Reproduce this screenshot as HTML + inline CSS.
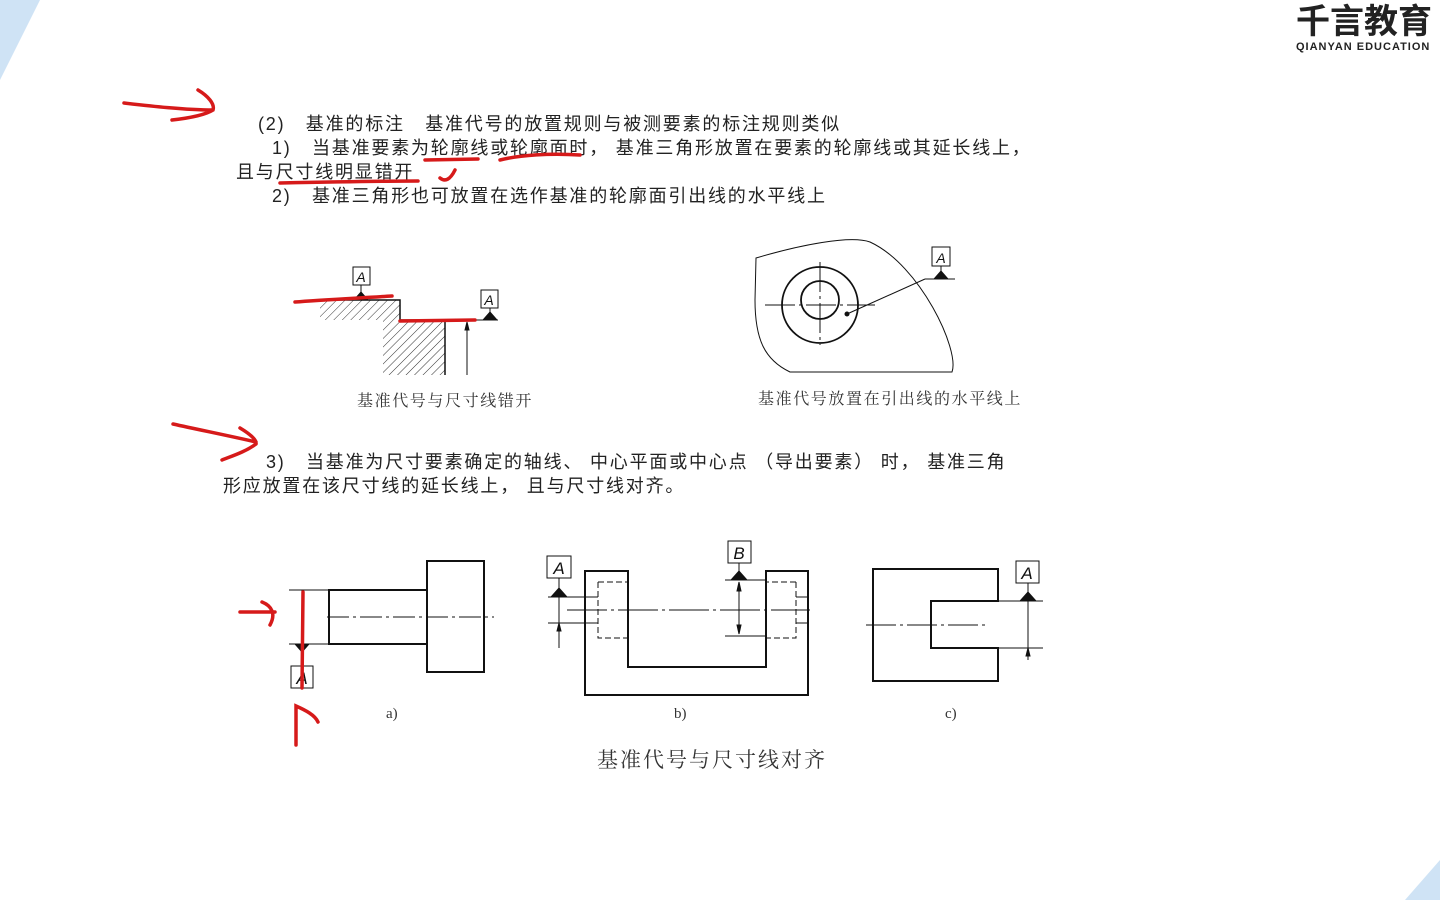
<!DOCTYPE html>
<html><head><meta charset="utf-8"><style>
body{margin:0;width:1440px;height:900px;background:#fff;overflow:hidden;position:relative;font-family:"Liberation Sans","Noto Sans CJK SC",sans-serif;}
.t{position:absolute;font-size:18px;color:#222;white-space:nowrap;line-height:24px;letter-spacing:1.8px}
.s{font-family:"Liberation Serif","Noto Serif CJK SC",serif;color:#333;position:absolute;white-space:nowrap}
</style></head><body>
<div class="t" style="left:258px;top:112px">(2)&nbsp;&nbsp; 基准的标注&nbsp;&nbsp;&nbsp;基准代号的放置规则与被测要素的标注规则类似</div>
<div class="t" style="left:272px;top:136px">1)&nbsp;&nbsp; 当基准要素为轮廓线或轮廓面时，&nbsp;基准三角形放置在要素的轮廓线或其延长线上，</div>
<div class="t" style="left:236px;top:160px">且与尺寸线明显错开</div>
<div class="t" style="left:272px;top:184px">2)&nbsp;&nbsp; 基准三角形也可放置在选作基准的轮廓面引出线的水平线上</div>
<div class="t" style="left:266px;top:450px">3)&nbsp;&nbsp; 当基准为尺寸要素确定的轴线、&nbsp;中心平面或中心点&nbsp;（导出要素）&nbsp;时，&nbsp;基准三角</div>
<div class="t" style="left:223px;top:474px">形应放置在该尺寸线的延长线上，&nbsp;且与尺寸线对齐。</div>
<div class="s" style="left:357px;top:388px;font-size:16px;letter-spacing:1.6px">基准代号与尺寸线错开</div>
<div class="s" style="left:758px;top:386px;font-size:16px;letter-spacing:1.6px">基准代号放置在引出线的水平线上</div>
<div class="s" style="left:386px;top:706px;font-size:15px">a)</div>
<div class="s" style="left:674px;top:706px;font-size:15px">b)</div>
<div class="s" style="left:945px;top:706px;font-size:15px">c)</div>
<div class="s" style="left:597px;top:744px;font-size:21px;letter-spacing:2px">基准代号与尺寸线对齐</div>
<div style="position:absolute;left:1296px;top:2px;font-size:34px;font-weight:bold;color:#222;letter-spacing:0px;line-height:40px">千言教育</div>
<div style="position:absolute;left:1296px;top:41px;font-size:11px;font-weight:bold;color:#222;line-height:12px;letter-spacing:1px">QIANYAN EDUCATION</div>
<svg width="1440" height="900" style="position:absolute;left:0;top:0">
<polygon points="0,0 40,0 0,80" fill="#cfe3f5"/>
<polygon points="1440,860 1440,900 1405,900" fill="#cfe3f5"/>
<g font-family="Liberation Sans, sans-serif" font-style="italic" fill="#111" text-anchor="middle">
<text x="361" y="282" font-size="14">A</text>
<text x="489" y="305" font-size="14">A</text>
<text x="941" y="263" font-size="14">A</text>
<text x="302" y="684" font-size="17">A</text>
<text x="559" y="574" font-size="17">A</text>
<text x="739" y="559" font-size="17">B</text>
<text x="1027" y="579" font-size="17">A</text>
</g>
<g stroke="#111" fill="none" stroke-width="1">
<defs><pattern id="h" width="6" height="6" patternUnits="userSpaceOnUse" patternTransform="rotate(45)"><line x1="0" y1="0" x2="0" y2="6" stroke="#333" stroke-width="1"/></pattern></defs>
<path d="M320,300 L400,300 L400,320 L445,320 L445,375 L383,375 L383,320 L320,320 Z" fill="url(#h)" stroke="none"/>
<path d="M320,300 L400,300 L400,320 L445,320 L445,375" stroke-width="1.5"/>
<line x1="445" y1="320" x2="498" y2="320"/>
<line x1="467" y1="375" x2="467" y2="324"/>
<polygon points="467,322 465,330 469,330" fill="#111"/>
<rect x="353" y="267" width="17" height="18"/><line x1="361" y1="285" x2="361" y2="293"/>
<polygon points="354,300 368,300 361,292" fill="#111"/>
<rect x="481" y="290" width="17" height="18"/><line x1="490" y1="308" x2="490" y2="313"/>
<polygon points="483,320 497,320 490,312" fill="#111"/>
<path d="M756,258 C800,245 850,235 870,242 C920,265 960,350 952,372 L790,372 C765,360 755,340 755,300 Z"/>
<circle cx="820" cy="305" r="38" stroke-width="1.8"/>
<circle cx="820" cy="300" r="19" stroke-width="1.8"/>
<line x1="765" y1="305" x2="875" y2="305" stroke-dasharray="30,4,3,4"/>
<line x1="820" y1="262" x2="820" y2="345" stroke-dasharray="30,4,3,4"/>
<circle cx="847" cy="314" r="2" fill="#111"/>
<line x1="847" y1="314" x2="925" y2="279"/><line x1="925" y1="279" x2="955" y2="279"/>
<rect x="932" y="247" width="18" height="19"/><line x1="941" y1="266" x2="941" y2="272"/>
<polygon points="934,279 948,279 941,271" fill="#111"/>
<rect x="329" y="590" width="98" height="54" stroke-width="2"/>
<rect x="427" y="561" width="57" height="111" stroke-width="2"/>
<line x1="327" y1="617" x2="494" y2="617" stroke-dasharray="22,4,3,4"/>
<line x1="289" y1="590" x2="329" y2="590"/><line x1="289" y1="644" x2="329" y2="644"/>
<line x1="302" y1="590" x2="302" y2="644"/>
<polygon points="295,644 309,644 302,652" fill="#111"/>
<rect x="291" y="666" width="22" height="22"/><line x1="302" y1="652" x2="302" y2="666"/>
<path d="M585,571 L628,571 L628,667 L766,667 L766,571 L808,571 L808,695 L585,695 Z" stroke-width="2"/>
<path d="M598,582 L628,582 M598,582 L598,638 L628,638 M796,582 L766,582 M796,582 L796,638 L766,638" stroke-dasharray="6,3"/>
<line x1="567" y1="610" x2="810" y2="610" stroke-dasharray="40,4,3,4"/>
<line x1="548" y1="597" x2="598" y2="597"/><line x1="548" y1="623" x2="598" y2="623"/>
<line x1="796" y1="597" x2="808" y2="597"/><line x1="796" y1="623" x2="808" y2="623"/>
<line x1="559" y1="597" x2="559" y2="648"/><polygon points="559,623 557,631 561,631" fill="#111"/>
<rect x="547" y="556" width="24" height="22"/><line x1="559" y1="578" x2="559" y2="589"/>
<polygon points="551,597 567,597 559,588" fill="#111"/>
<line x1="725" y1="580" x2="766" y2="580"/><line x1="725" y1="636" x2="766" y2="636"/>
<line x1="739" y1="582" x2="739" y2="634"/>
<polygon points="739,582 737,591 741,591" fill="#111"/><polygon points="739,634 737,625 741,625" fill="#111"/>
<rect x="728" y="541" width="23" height="22"/><line x1="739" y1="563" x2="739" y2="571"/>
<polygon points="731,580 747,580 739,571" fill="#111"/>
<path d="M873,569 L998,569 L998,601 L931,601 L931,648 L998,648 L998,681 L873,681 Z" stroke-width="2"/>
<line x1="866" y1="625" x2="986" y2="625" stroke-dasharray="30,4,3,4"/>
<line x1="998" y1="601" x2="1043" y2="601"/><line x1="998" y1="648" x2="1043" y2="648"/>
<line x1="1028" y1="601" x2="1028" y2="660"/><polygon points="1028,648 1026,656 1030,656" fill="#111"/>
<rect x="1016" y="561" width="23" height="22"/><line x1="1028" y1="583" x2="1028" y2="592"/>
<polygon points="1020,601 1036,601 1028,592" fill="#111"/>
</g>
<g stroke="#d61a1a" fill="none" stroke-width="3.5" stroke-linecap="round">
<path d="M124,103 C150,106 185,110 213,110 M198,90 C208,96 215,104 213,110 C205,115 190,118 172,120"/>
<path d="M173,424 C200,430 230,436 256,442 M240,428 C250,434 257,440 256,444 C245,452 232,456 222,460"/>
<path d="M295,302 C320,300 360,298 392,296"/>
<path d="M400,321 L475,320"/>
<path d="M425,160 L478,159 M500,160 C520,155 550,153 580,155"/>
<path d="M280,183 C330,182 380,181 418,181 M440,178 C445,182 450,180 455,170"/>
<path d="M240,612 L275,612 M262,602 C272,606 276,614 270,625"/>
<path d="M303,592 L302,688"/>
<path d="M296,745 L296,706 C305,710 315,715 318,722"/>
</g>
</svg>
</body></html>
